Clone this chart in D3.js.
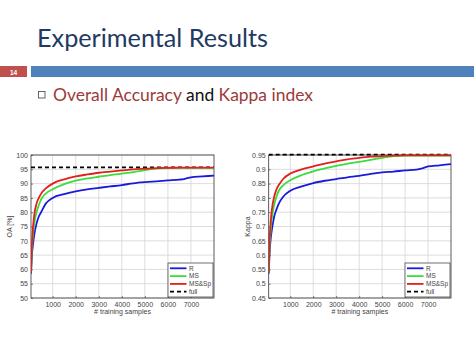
<!DOCTYPE html>
<html><head><meta charset="utf-8">
<script src="https://cdn.jsdelivr.net/npm/d3@7"></script>
<style>body{margin:0;background:#fff}svg{display:block}</style>
</head><body>
<svg id="c" width="474" height="355"></svg>
<script>
const samples = [60,100,150,200,300,400,500,700,1000,1500,2000,2500,3000,3500,4000,4500,5000,5500,6000,6500,6700,7000,7500,8000];
const oaR    = [58.5,65,69,72,76,78.5,80,83,85,86.3,87.3,88,88.5,89,89.5,90.1,90.5,90.8,91.1,91.4,91.6,92.2,92.5,92.8];
const oaMS   = [59,67,72.5,76,80,82.5,84.5,86.5,88,89.8,91,91.8,92.4,93,93.5,94,94.7,95.2,95.4,95.5,95.5,95.5,95.5,95.5];
const oaMSSp = [59,69,75,79,83,85,86.5,88.3,90,91.5,92.5,93.2,93.8,94.2,94.6,95,95.2,95.4,95.5,95.6,95.6,95.6,95.6,95.6];
const oaFull = 95.7;
const kR    = [0.535,0.61,0.66,0.69,0.735,0.76,0.78,0.805,0.825,0.84,0.852,0.86,0.866,0.872,0.877,0.884,0.889,0.892,0.896,0.899,0.902,0.91,0.914,0.918];
const kMS   = [0.54,0.63,0.69,0.73,0.775,0.805,0.825,0.845,0.862,0.88,0.893,0.903,0.912,0.92,0.926,0.933,0.94,0.946,0.948,0.948,0.948,0.948,0.948,0.948];
const kMSSp = [0.54,0.65,0.72,0.76,0.805,0.83,0.845,0.867,0.885,0.9,0.91,0.92,0.928,0.935,0.94,0.944,0.946,0.948,0.949,0.949,0.949,0.949,0.949,0.949];
const kFull = 0.951;
const xTicks = [1000,2000,3000,4000,5000,6000,7000];
const oaTicks = [50,55,60,65,70,75,80,85,90,95,100];
const kTicks = [0.45,0.5,0.55,0.6,0.65,0.7,0.75,0.8,0.85,0.9,0.95];
const legendNames = ["R","MS","MS&Sp","full"];
const seriesColors = ["#1a1adb","#3ddc3d","#e0201c","#000"];

const svg = d3.select("#c");

// Title
svg.append("text").attr("x",37).attr("y",47).attr("font-family","Lato, sans-serif")
  .attr("font-size",25).attr("fill","#1f3a63").attr("textLength",231).attr("lengthAdjust","spacingAndGlyphs").text("Experimental Results");
// bars
svg.append("rect").attr("x",0).attr("y",66).attr("width",27).attr("height",11).attr("fill","#c0504d");
svg.append("text").attr("x",13.5).attr("y",74.5).attr("text-anchor","middle").attr("font-family","Liberation Sans, sans-serif")
  .attr("font-size",6.5).attr("font-weight","bold").attr("fill","#fff").text("14");
svg.append("rect").attr("x",31).attr("y",66).attr("width",443).attr("height",11).attr("fill","#4f81bd");
// bullet
svg.append("rect").attr("x",38.5).attr("y",91.5).attr("width",6.5).attr("height",6.5).attr("fill","none").attr("stroke","#555").attr("stroke-width",0.9);
const sub = svg.append("text").attr("x",53).attr("y",101).attr("font-family","Lato, sans-serif").attr("font-size",17)
  .attr("textLength",260).attr("lengthAdjust","spacingAndGlyphs");
sub.append("tspan").attr("fill","#9b3b39").text("Overall Accuracy ");
sub.append("tspan").attr("fill","#111").text("and ");
sub.append("tspan").attr("fill","#9b3b39").text("Kappa index");

function chart(x0, x1, yDomain, yTicks, fmt, ylab, vals, full, legX) {
  const top = 155, bottom = 298;
  const x = d3.scaleLinear().domain([60, 8000]).range([x0, x1]);
  const y = d3.scaleLinear().domain(yDomain).range([bottom, top]);
  const g = svg.append("g");
  g.append("rect").attr("x",x0).attr("y",top).attr("width",x1-x0).attr("height",bottom-top).attr("fill","#fff");
  // grid
  g.append("g").selectAll("line").data(xTicks).join("line")
    .attr("x1",d=>x(d)).attr("x2",d=>x(d)).attr("y1",top).attr("y2",bottom).attr("stroke","#d4d4d4").attr("stroke-width",0.8);
  g.append("g").selectAll("line").data(yTicks).join("line")
    .attr("y1",d=>y(d)).attr("y2",d=>y(d)).attr("x1",x0).attr("x2",x1).attr("stroke","#d4d4d4").attr("stroke-width",0.8);
  // axes
  const ax = g.append("g").attr("transform",`translate(0,${bottom})`)
    .call(d3.axisBottom(x).tickValues(xTicks).tickSize(-2).tickPadding(4).tickFormat(d3.format("d")));
  const ay = g.append("g").attr("transform",`translate(${x0},0)`)
    .call(d3.axisLeft(y).tickValues(yTicks).tickSize(-2).tickPadding(3).tickFormat(fmt));
  [ax, ay].forEach(a => {
    a.select(".domain").remove();
    a.selectAll("line").attr("stroke","#333").attr("stroke-width",0.6);
    a.selectAll("text").attr("font-family","Liberation Sans, Arial, sans-serif").attr("font-size",7).attr("fill","#444");
  });
  // frame
  g.append("rect").attr("x",x0).attr("y",top).attr("width",x1-x0).attr("height",bottom-top)
    .attr("fill","none").attr("stroke","#333").attr("stroke-width",0.8);
  g.append("text").attr("x",(x0+x1)/2).attr("y",314).attr("text-anchor","middle")
    .attr("font-family","Liberation Sans, Arial, sans-serif").attr("font-size",7).attr("fill","#444").text("# training samples");
  g.append("text").attr("transform",`translate(${x0-19},${(top+bottom)/2}) rotate(-90)`).attr("text-anchor","middle")
    .attr("font-family","Liberation Sans, Arial, sans-serif").attr("font-size",7).attr("fill","#444").text(ylab);
  // lines
  const line = d3.line().x((d,i)=>x(samples[i])).y(d=>y(d)).curve(d3.curveMonotoneX);
  const clip = "clip" + Math.round(x0);
  svg.append("clipPath").attr("id",clip).append("rect").attr("x",x0).attr("y",top-2).attr("width",x1-x0).attr("height",bottom-top+2);
  const lg = g.append("g").attr("clip-path",`url(#${clip})`);
  lg.append("line").attr("x1",x0).attr("x2",x1).attr("y1",y(full)).attr("y2",y(full))
    .attr("stroke","#000").attr("stroke-width",1.8).attr("stroke-dasharray","4,3");
  vals.forEach((v,i) => {
    lg.append("path").datum(v).attr("d",line).attr("fill","none").attr("stroke",seriesColors[i]).attr("stroke-width",1.8);
  });
  // legend
  const lx = legX, ly = 263, lw = 45, lh = 34;
  const leg = g.append("g");
  leg.append("rect").attr("x",lx).attr("y",ly).attr("width",lw).attr("height",lh).attr("fill","#fff").attr("stroke","#333").attr("stroke-width",0.7);
  legendNames.forEach((n,i) => {
    const yy = ly + 5.3 + i*7.8;
    leg.append("line").attr("x1",lx+2).attr("x2",lx+18.5).attr("y1",yy).attr("y2",yy)
      .attr("stroke",seriesColors[i]).attr("stroke-width",1.8).attr("stroke-dasharray", i===3 ? "4,3" : null);
    leg.append("text").attr("x",lx+21).attr("y",yy+2.3).attr("font-family","Liberation Sans, Arial, sans-serif")
      .attr("font-size",6.5).attr("fill","#444").text(n);
  });
}

chart(31, 214, [50,100], oaTicks, d3.format("d"), "OA [%]", [oaR, oaMS, oaMSSp], oaFull, 168);
chart(268.7, 451, [0.45,0.95], kTicks, d=>d3.format("")(+d.toFixed(2)), "Kappa", [kR, kMS, kMSSp], kFull, 405);
</script>
</body></html>
